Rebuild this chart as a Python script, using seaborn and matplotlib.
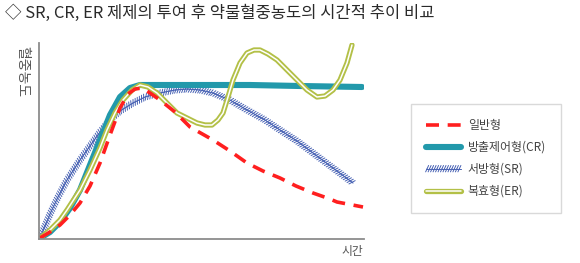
import matplotlib
matplotlib.use("Agg")
import matplotlib.pyplot as plt
import matplotlib.patheffects as pe
import seaborn as sns
import pandas as pd

# time (x) and concentration (y) values
ir_t = [0, 10, 20, 30, 40, 50, 60, 70, 80, 88, 95, 102, 110, 120, 135, 150, 173, 190, 207, 223, 240, 256, 273, 290, 297, 323]
ir_c = [1, 7, 14, 24, 36, 53, 76, 104, 131, 145, 150, 151, 146, 139, 127, 112, 99, 88, 76, 68, 61, 53, 46, 40, 37, 32]

cr_t = [0, 10, 20, 30, 40, 50, 60, 70, 80, 90, 100, 110, 140, 210, 260, 322]
cr_c = [1, 7, 17, 31, 49, 74, 99, 124, 142, 151, 154, 154, 154, 154, 153, 152]

sr_t = [0, 10, 18, 27, 40, 50, 60, 70, 80, 93, 105, 120, 135, 147, 160, 173, 190, 207, 225, 240, 257, 273, 293, 313]
sr_c = [1, 25, 42, 59, 79, 93, 107, 119, 128, 136, 142, 146, 149, 150, 149, 146, 139, 129, 119, 109, 98, 86, 71, 56]

er_t = [0, 10, 20, 27, 40, 50, 60, 67, 75, 83, 92, 100, 108, 117, 127, 137, 147, 157, 165, 172, 178, 183, 188, 193,
        200, 207, 214, 220, 228, 237, 247, 257, 267, 277, 285, 293, 300, 307, 312]
er_c = [1, 9, 19, 29, 49, 69, 91, 109, 126, 139, 149, 154, 152, 146, 136, 126, 121, 116, 114, 114, 119, 126, 142, 159,
        176, 186, 189, 189, 185, 179, 169, 159, 149, 142, 143, 149, 159, 176, 194]

labels = ["일반형", "방출제어형(CR)", "서방형(SR)", "복효형(ER)"]
title = "◇ SR, CR, ER 제제의 투여 후 약물혈중농도의 시간적 추이 비교"
ylabel = "혈중농도"
xlabel = "시간"

sns.set_theme(style="white")
plt.rcParams["font.family"] = ["Noto Sans CJK KR", "DejaVu Sans"]

W, H = 580, 263
fig = plt.figure(figsize=(W / 100, H / 100), dpi=100)
ax = fig.add_axes([39 / W, (H - 239) / H, 325 / W, 196 / H])

blue = "#4862b4"
teal = "#2299ab"
green = "#b3c047"
red = "#ff1f1f"

# SR (hatched band)
sns.lineplot(x=sr_t, y=sr_c, ax=ax, sort=False, color=blue, lw=0.6, label=labels[2],
             path_effects=[pe.withTickedStroke(angle=65, spacing=1.7, length=1.5, linewidth=0.7, foreground=blue),
                           pe.withTickedStroke(angle=-115, spacing=1.7, length=1.5, linewidth=0.7, foreground=blue)])
# CR
sns.lineplot(x=cr_t, y=cr_c, ax=ax, sort=False, color=teal, lw=4.4, label=labels[1])
# ER (double line)
sns.lineplot(x=er_t, y=er_c, ax=ax, sort=False, color="white", lw=1.1, label=labels[3],
             path_effects=[pe.Stroke(linewidth=3.8, foreground=green), pe.Normal()])
# IR (general, dashed)
sns.lineplot(x=ir_t, y=ir_c, ax=ax, sort=False, color=red, lw=2.6, label=labels[0])
ax.lines[-1].set_dashes((3.6, 2.4))

ax.set_xlim(-1, 324)
ax.set_ylim(0, 196)
ax.set_xticks([])
ax.set_yticks([])
ax.set_xlabel("")
ax.set_ylabel("")
for s in ["top", "right"]:
    ax.spines[s].set_visible(False)
for s in ["left", "bottom"]:
    ax.spines[s].set_color("#8c8c8c")
    ax.spines[s].set_linewidth(1.3)

handles, labs = ax.get_legend_handles_labels()
order = [labs.index(l) for l in labels]
leg = ax.legend([handles[i] for i in order], [labs[i] for i in order],
                loc="upper left", bbox_to_anchor=(411 / W, 1 - 104 / H), bbox_transform=fig.transFigure,
                borderaxespad=0, frameon=True, fancybox=False, edgecolor="#d0d0d0",
                fontsize=8.6, handlelength=2.9, handletextpad=0.6, labelspacing=0.75,
                borderpad=1.25)
leg.get_frame().set_linewidth(1.0)
for t in leg.get_texts():
    t.set_color("#444444")

fig.text(5 / W, 1 - 13 / H, title, fontsize=11.9, color="#2a2a2a", va="center", ha="left", fontweight="medium")
fig.text(22 / W, 1 - 71 / H, ylabel, fontsize=10, color="#555555", rotation=270, va="center", ha="center")
fig.text(363 / W, 1 - 251 / H, xlabel, fontsize=8.5, color="#555555", va="center", ha="right")

fig.savefig("out.png", dpi=100)
